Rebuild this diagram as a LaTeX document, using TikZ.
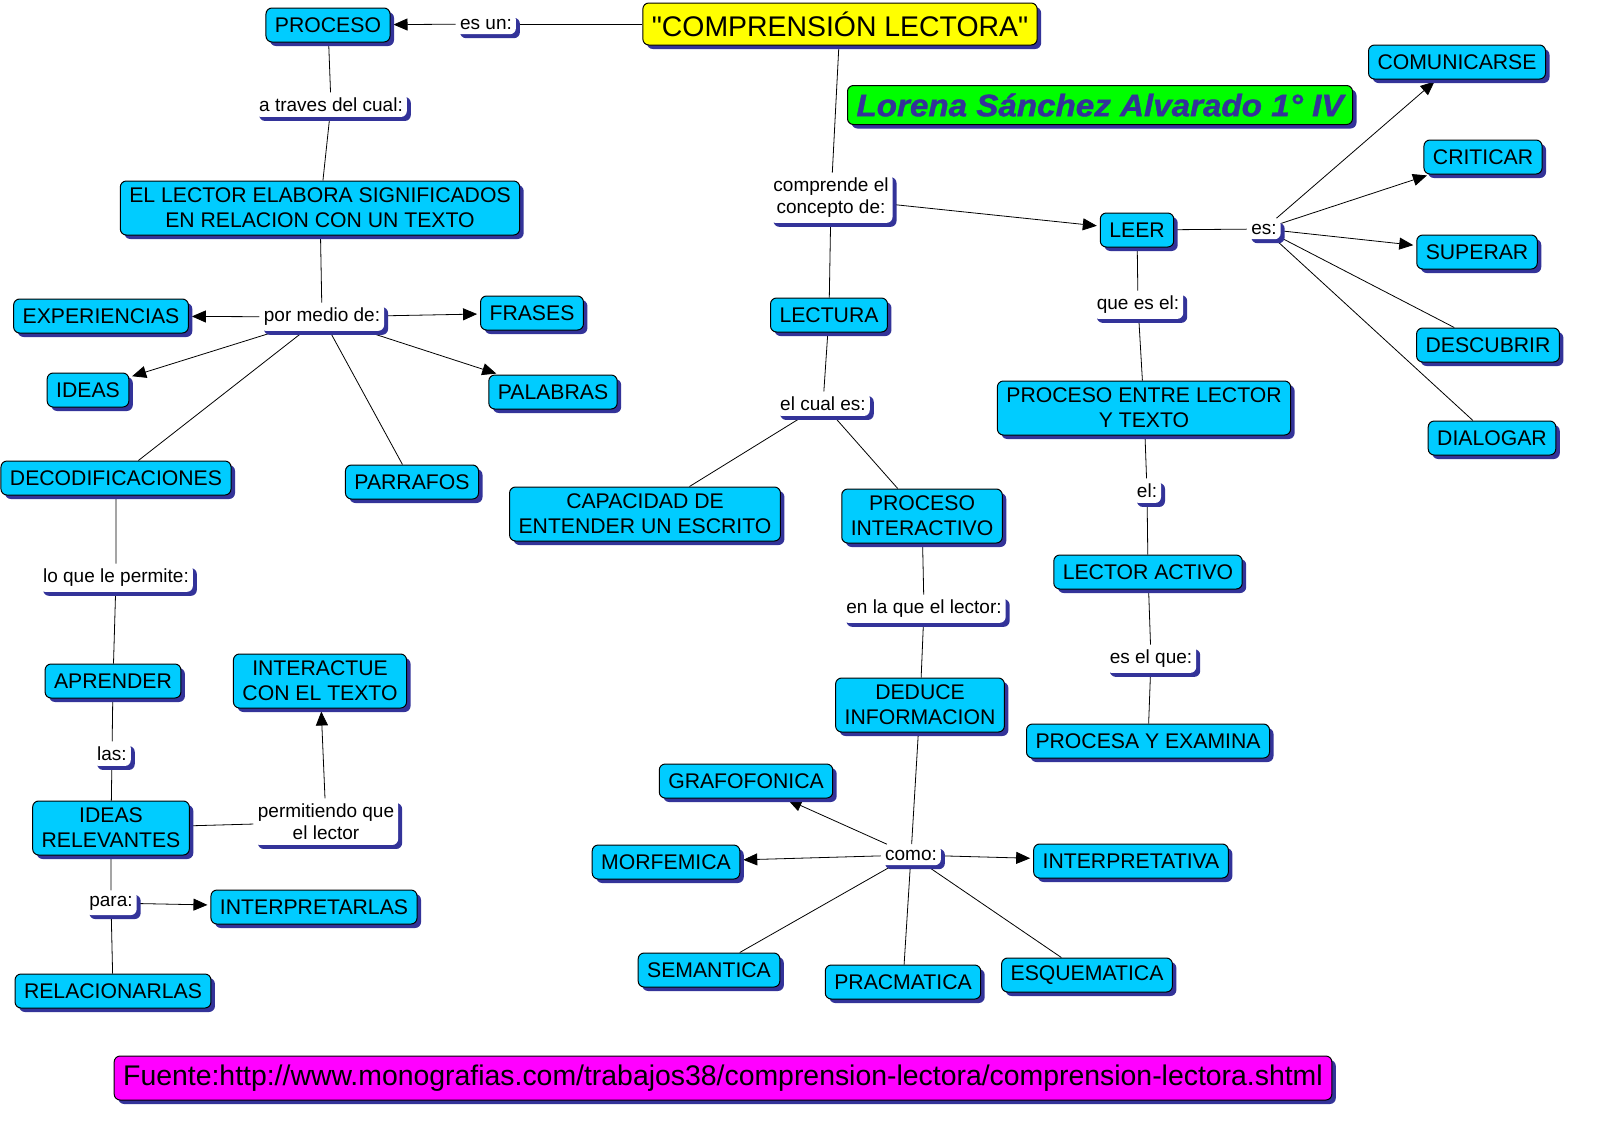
\documentclass[tikz,border=0pt]{standalone}
\usepackage{fontspec}
\setmainfont[Ligatures=TeXOff]{Liberation Sans}
\newfontfamily\namefont[UprightFont={* Bold Italic}, FakeStretch=1.07, FakeBold=1.3]{Liberation Sans}
\usetikzlibrary{shadows,arrows.meta,backgrounds}
\definecolor{mapcyan}{RGB}{0,204,255}
\definecolor{mapshadow}{RGB}{51,51,153}
\definecolor{mapyellow}{RGB}{255,255,0}
\definecolor{mapgreen}{RGB}{0,255,0}
\definecolor{mapmagenta}{RGB}{255,0,255}

\begin{document}
\begin{tikzpicture}[x=0.5pt, y=-0.5pt, line width=0.6pt, >={Triangle[length=7pt,width=6pt]},
    mapshade/.style={drop shadow={shadow xshift=2pt, shadow yshift=-2pt, fill=mapshadow, opacity=1}},
    concept/.style={mapshade, draw=black, line width=0.5pt, fill=mapcyan, rounded corners=3pt, align=center,
        font=\fontsize{10.6}{12.5}\selectfont, inner xsep=4.5pt, inner ysep=3.5pt, minimum height=17pt},
    link/.style={mapshade, fill=white, rounded corners=3pt, align=center,
        font=\fontsize{9.5}{11}\selectfont, inner xsep=2pt, inner ysep=2.5pt},
    arr/.style={->, shorten >=1.5pt}]
    \useasboundingbox (0,0) rectangle (1600,1131);

    % title and banners
    \node[concept, fill=mapyellow, font=\fontsize{14.2}{16}\selectfont, minimum height=21pt] (cl) at (840,24) {"COMPRENSIÓN LECTORA"};
    \node[concept, fill=mapgreen, text=mapshadow, font=\fontsize{15.5}{17}\namefont, minimum height=19.5pt] (lorena) at (1100,105) {Lorena Sánchez Alvarado 1° IV};
    \node[concept, fill=mapmagenta, font=\fontsize{14.2}{16}\selectfont, minimum height=22pt] (fuente) at (723,1078) {Fuente:http://www.monografias.com/trabajos38/comprension-lectora/comprension-lectora.shtml};

    % left branch
    \node[concept] (proceso) at (328,25) {PROCESO};
    \node[link] (esun) at (486,24) {es un:};
    \node[link] (atraves) at (331,105) {a traves del cual:};
    \node[concept] (elabora) at (320,208) {EL LECTOR ELABORA SIGNIFICADOS\\EN RELACION CON UN TEXTO};
    \node[link] (pormedio) at (322,317) {por medio de:};
    \node[concept] (experiencias) at (101,316) {EXPERIENCIAS};
    \node[concept] (frases) at (532,313) {FRASES};
    \node[concept] (ideas) at (88,390) {IDEAS};
    \node[concept] (palabras) at (553,392) {PALABRAS};
    \node[concept] (decod) at (116,478) {DECODIFICACIONES};
    \node[concept] (parrafos) at (412,482) {PARRAFOS};
    \node[link] (loque) at (116,578) {lo que le permite:};
    \node[concept] (aprender) at (113,681) {APRENDER};
    \node[concept] (interactue) at (320,681) {INTERACTUE\\CON EL TEXTO};
    \node[link] (las) at (112,754) {las:};
    \node[concept] (relevantes) at (111,828) {IDEAS\\RELEVANTES};
    \node[link] (permitiendo) at (326,822) {permitiendo que\\el lector};
    \node[link] (para) at (111,903) {para:};
    \node[concept] (interpretarlas) at (314,907) {INTERPRETARLAS};
    \node[concept] (relacionarlas) at (113,991) {RELACIONARLAS};

    % middle branch
    \node[link] (comprende) at (831,198) {comprende el\\concepto de:};
    \node[concept] (lectura) at (829,315) {LECTURA};
    \node[link] (elcual) at (823,404) {el cual es:};
    \node[concept] (capacidad) at (645,514) {CAPACIDAD DE\\ENTENDER UN ESCRITO};
    \node[concept] (interactivo) at (922,516) {PROCESO\\INTERACTIVO};
    \node[link] (enlaque) at (924,609) {en la que el lector:};
    \node[concept] (deduce) at (920,705) {DEDUCE\\INFORMACION};
    \node[link] (como) at (911,855) {como:};
    \node[concept] (grafo) at (746,781) {GRAFOFONICA};
    \node[concept] (morfe) at (666,862) {MORFEMICA};
    \node[concept] (interp) at (1131,861) {INTERPRETATIVA};
    \node[concept] (seman) at (709,970) {SEMANTICA};
    \node[concept] (pracm) at (903,982) {PRACMATICA};
    \node[concept] (esque) at (1087,975) {ESQUEMATICA};

    % right branch
    \node[concept] (leer) at (1137,230) {LEER};
    \node[link] (es) at (1264,229) {es:};
    \node[concept] (comunicarse) at (1457,62) {COMUNICARSE};
    \node[concept] (criticar) at (1483,157) {CRITICAR};
    \node[concept] (superar) at (1477,252) {SUPERAR};
    \node[concept] (descubrir) at (1488,345) {DESCUBRIR};
    \node[concept] (dialogar) at (1492,438) {DIALOGAR};
    \node[link] (quees) at (1138,305) {que es el:};
    \node[concept] (entre) at (1144,408) {PROCESO ENTRE LECTOR\\Y TEXTO};
    \node[link] (el) at (1147,491) {el:};
    \node[concept] (activo) at (1148,572) {LECTOR ACTIVO};
    \node[link] (eselque) at (1151,659) {es el que:};
    \node[concept] (procesa) at (1148,741) {PROCESA Y EXAMINA};

    \begin{scope}[on background layer]
        \draw (cl) -- (esun);
        \draw[arr] (esun) -- (proceso);
        \draw (proceso) -- (atraves) -- (elabora) -- (pormedio);
        \draw[arr] (pormedio) -- (experiencias);
        \draw[arr] (pormedio) -- (frases);
        \draw[arr] (pormedio) -- (ideas);
        \draw[arr] (pormedio) -- (palabras);
        \draw (pormedio) -- (decod);
        \draw (pormedio) -- (parrafos);
        \draw (decod) -- (loque) -- (aprender) -- (las) -- (relevantes) -- (permitiendo);
        \draw[arr] (permitiendo) -- (interactue);
        \draw (relevantes) -- (para) -- (relacionarlas);
        \draw[arr] (para) -- (interpretarlas);

        \draw (cl) -- (comprende) -- (lectura) -- (elcual) -- (capacidad);
        \draw[arr] (comprende) -- (leer);
        \draw (elcual) -- (interactivo) -- (enlaque) -- (deduce) -- (como);
        \draw[arr] (como) -- (grafo);
        \draw[arr] (como) -- (morfe);
        \draw[arr] (como) -- (interp);
        \draw (como) -- (seman);
        \draw (como) -- (pracm);
        \draw (como) -- (esque);

        \draw (leer) -- (es);
        \draw[arr] (es) -- (comunicarse);
        \draw[arr] (es) -- (criticar);
        \draw[arr] (es) -- (superar);
        \draw (es) -- (descubrir);
        \draw (es) -- (dialogar);
        \draw (leer) -- (quees) -- (entre) -- (el) -- (activo) -- (eselque) -- (procesa);
    \end{scope}
\end{tikzpicture}
\end{document}
